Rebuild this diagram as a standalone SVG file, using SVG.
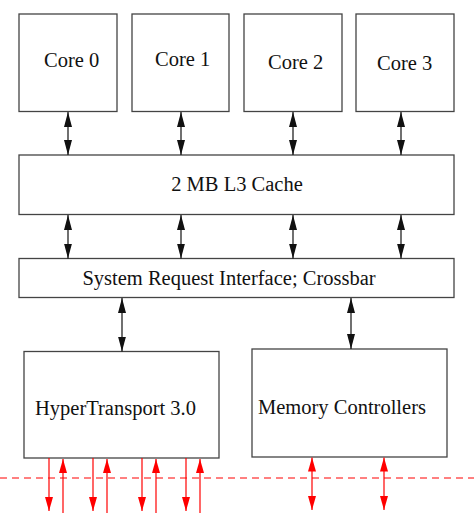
<svg xmlns="http://www.w3.org/2000/svg" width="474" height="513" viewBox="0 0 474 513">
<style>
.box{fill:#fff;stroke:#444;stroke-width:1.3}
.lbl{font-family:"Liberation Serif","Times New Roman",serif;font-size:20.5px;fill:#111}
.blk{stroke:#111;stroke-width:1.2;fill:none}
.red{stroke:#f00;stroke-width:1.2;fill:none}
</style>
<defs>
<marker id="ab" markerUnits="userSpaceOnUse" markerWidth="15" markerHeight="8" refX="15" refY="4" orient="auto-start-reverse" viewBox="0 0 15 8"><path d="M0,0 L15,4 L0,8 z" fill="#111"/></marker>
<marker id="ar" markerUnits="userSpaceOnUse" markerWidth="14" markerHeight="8" refX="14" refY="4" orient="auto-start-reverse" viewBox="0 0 14 8"><path d="M0,0 L14,4 L0,8 z" fill="#f00"/></marker>
</defs>
<rect width="474" height="513" fill="#fff"/>
<g id="core0"><rect class="box" x="19" y="14" width="98" height="97.5"/><text class="lbl" x="44" y="67">Core 0</text></g>
<g id="core1"><rect class="box" x="132" y="14" width="97" height="97.5"/><text class="lbl" x="155" y="66">Core 1</text></g>
<g id="core2"><rect class="box" x="244" y="14" width="98" height="97.5"/><text class="lbl" x="268" y="68.5">Core 2</text></g>
<g id="core3"><rect class="box" x="356" y="14" width="98" height="97.5"/><text class="lbl" x="377" y="70">Core 3</text></g>
<g id="cache"><rect class="box" x="19" y="155" width="435" height="59.5"/><text class="lbl" x="237" y="191" text-anchor="middle">2 MB L3 Cache</text></g>
<g id="sri"><rect class="box" x="19" y="258.5" width="435" height="39"/><text class="lbl" x="229" y="284.5" text-anchor="middle">System Request Interface; Crossbar</text></g>
<g id="ht"><rect class="box" x="24" y="351.5" width="195" height="106.5"/><text class="lbl" x="35" y="415">HyperTransport 3.0</text></g>
<g id="mc"><rect class="box" x="252" y="349" width="195" height="108"/><text class="lbl" x="258" y="413.5">Memory Controllers</text></g>
<g id="connectors">
<g class="blk" marker-start="url(#ab)" marker-end="url(#ab)">
<line x1="68" y1="112" x2="68" y2="155"/>
<line x1="181" y1="112" x2="181" y2="155"/>
<line x1="293" y1="112" x2="293" y2="155"/>
<line x1="401" y1="112" x2="401" y2="155"/>
<line x1="68" y1="215" x2="68" y2="258.5"/>
<line x1="181" y1="215" x2="181" y2="258.5"/>
<line x1="293" y1="215" x2="293" y2="258.5"/>
<line x1="401" y1="215" x2="401" y2="258.5"/>
<line x1="122" y1="298" x2="122" y2="351.5"/>
<line x1="351" y1="298" x2="351" y2="349"/>
</g>
<line x1="0" y1="478" x2="474" y2="478" stroke="#f00" stroke-width="1" stroke-dasharray="7,5"/>
<g class="red" marker-end="url(#ar)">
<line x1="49" y1="458" x2="49" y2="511"/>
<line x1="93" y1="458" x2="93" y2="511"/>
<line x1="142" y1="458" x2="142" y2="511"/>
<line x1="186" y1="458" x2="186" y2="511"/>
</g>
<g class="red" marker-start="url(#ar)">
<line x1="63" y1="459" x2="63" y2="513"/>
<line x1="107" y1="459" x2="107" y2="513"/>
<line x1="156" y1="459" x2="156" y2="513"/>
<line x1="200" y1="459" x2="200" y2="513"/>
</g>
<g class="red" marker-start="url(#ar)" marker-end="url(#ar)">
<line x1="312" y1="457.5" x2="312" y2="510"/>
<line x1="384" y1="457.5" x2="384" y2="510"/>
</g>
</g>
</svg>
